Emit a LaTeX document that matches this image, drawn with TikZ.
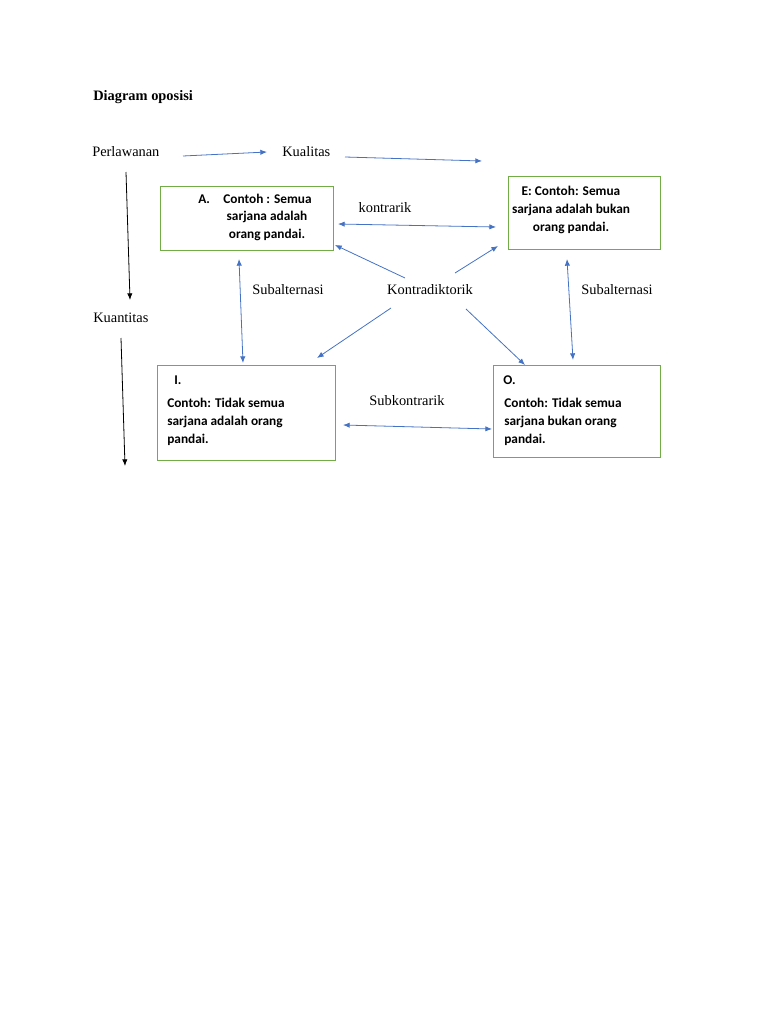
\documentclass[tikz,border=0pt]{standalone}
\usepackage{fontspec}
\setmainfont{Liberation Serif}
\newfontfamily\boxfont{Carlito}
\usetikzlibrary{arrows.meta}
\definecolor{bxg}{HTML}{70AD47}
\definecolor{arb}{HTML}{4472C4}
\begin{document}
\begin{tikzpicture}[x=0.75pt,y=-0.75pt,
  lbl/.style={font=\fontsize{10.8}{12}\selectfont, inner sep=0},
  bx/.style={draw=bxg, line width=0.7pt},
  bt/.style={font=\boxfont\bfseries\fontsize{10}{13.5}\selectfont, inner sep=0},
  barr/.style={draw=arb, line width=0.6pt, -{Latex[length=5pt,width=4pt]}},
  darr/.style={barr, {Latex[length=5pt,width=4pt]}-{Latex[length=5pt,width=4pt]}},
  karr/.style={line width=0.6pt, -{Latex[length=5pt,width=4pt]}}]
\useasboundingbox (0,0) rectangle (768,1024);
\node[lbl, anchor=west, font=\bfseries\fontsize{10.8}{12}\selectfont] (title) at (93,97) {Diagram oposisi};
\node[lbl, anchor=west] (perl) at (92,152) {Perlawanan};
\node[lbl, anchor=west] (kual) at (282,152) {Kualitas};
\node[lbl, anchor=west] (kuan) at (93,318) {Kuantitas};
\node[lbl] (kontr) at (385,208) {kontrarik};
\node[lbl] (kd) at (430,290) {Kontradiktorik};
\node[lbl] (sl) at (288,290) {Subalternasi};
\node[lbl] (sr) at (617,290) {Subalternasi};
\node[lbl] (sk) at (407,401) {Subkontrarik};
% boxes
\draw[bx] (160,186) rectangle (333,250);
\draw[bx] (508,176) rectangle (660,249);
\draw[bx] (157,365) rectangle (335,460);
\draw[bx] (493,365) rectangle (660,457);
\node[bt, anchor=west] (at) at (198,199) {A.\quad Contoh : Semua};
\node[bt] (a2) at (267,217) {sarjana adalah};
\node[bt] (a3) at (267,235) {orang pandai.};
\node[bt, align=center] (et) at (571,210) {E: Contoh: Semua\\sarjana adalah bukan\\orang pandai.};
\node[bt, anchor=west] (it) at (174,380) {I.};
\node[bt, anchor=north west, align=left] (ib) at (167,398) {Contoh: Tidak semua\\sarjana adalah orang\\pandai.};
\node[bt, anchor=west] (ot) at (503,380) {O.};
\node[bt, anchor=north west, align=left] (ob) at (504,398) {Contoh: Tidak semua\\sarjana bukan orang\\pandai.};
% arrows
\draw[barr] (183,156) -- (267,152);
\draw[barr] (345,157) -- (482,161);
\draw[karr] (126,172) -- (130,300);
\draw[karr] (121,338) -- (125,466);
\draw[darr] (338,224) -- (496,227);
\draw[darr] (239,259) -- (243,363);
\draw[darr] (567,259) -- (573,360);
\draw[darr] (343,425) -- (492,429);
\draw[barr] (405,278) -- (335,245);
\draw[barr] (455,273) -- (498,246);
\draw[barr] (391,308) -- (317,358);
\draw[barr] (466,309) -- (525,365);
\end{tikzpicture}
\end{document}
